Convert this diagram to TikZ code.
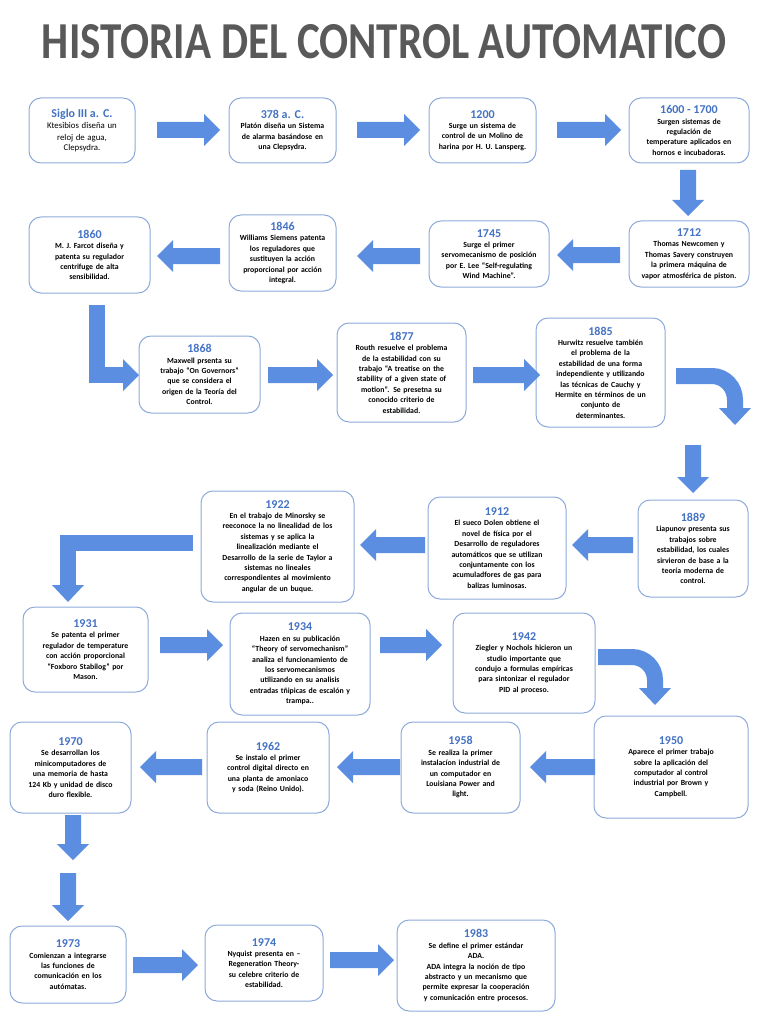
\documentclass[tikz,border=0pt]{standalone}
\usepackage{fontspec}
\setmainfont{Carlito}
\usepackage{graphicx}
\definecolor{arr}{HTML}{5B8EE0}
\definecolor{bord}{HTML}{8EAADB}
\definecolor{yr}{HTML}{4472C4}
\definecolor{ttl}{HTML}{595959}
\newcommand\yr[1]{{\fontsize{12}{14}\selectfont\bfseries\color{yr}#1}\\}
\newcommand\RA[3]{\fill[arr] (#1,{#3-8}) -- ({#2-16},{#3-8}) -- ({#2-16},{#3-16}) -- (#2,#3) -- ({#2-16},{#3+16}) -- ({#2-16},{#3+8}) -- (#1,{#3+8}) -- cycle;}
\newcommand\LA[3]{\fill[arr] (#2,{#3-8}) -- ({#1+16},{#3-8}) -- ({#1+16},{#3-16}) -- (#1,#3) -- ({#1+16},{#3+16}) -- ({#1+16},{#3+8}) -- (#2,{#3+8}) -- cycle;}
\newcommand\DA[3]{\fill[arr] ({#1-8},#2) -- ({#1-8},{#3-16}) -- ({#1-16},{#3-16}) -- (#1,#3) -- ({#1+16},{#3-16}) -- ({#1+8},{#3-16}) -- ({#1+8},#2) -- cycle;}
\newcommand\B[6]{%
 \pgfmathsetmacro\bw{#4-#2}\pgfmathsetmacro\bh{#5-#3}\pgfmathsetmacro\tw{#4-#2-6}%
 \node[box,minimum width=\bw pt,minimum height=\bh pt,text width=\tw pt] (#1) at ({(#2+#4)/2},{(#3+#5)/2}) {#6};}
\begin{document}
\begin{tikzpicture}[x=1pt,y=-1pt,
 box/.style={draw=bord,line width=1pt,rounded corners=12pt,fill=white,align=center,inner sep=1pt,font=\fontsize{7.8}{10.4}\selectfont\bfseries},
 body/.style={line width=16pt,draw=arr}]
\useasboundingbox (0,0) rectangle (768,1024);
\node[font=\bfseries,text=ttl] (title) at (384,42) {\resizebox{684pt}{34pt}{HISTORIA DEL CONTROL AUTOMATICO}};
\B{a}{29}{98}{135}{163}{\yr{Siglo III a. C.}{\fontsize{8.8}{11.5}\selectfont\mdseries Ktesibios diseña un\\reloj de agua,\\Clepsydra.}}
\B{b}{229}{98}{336}{163}{\yr{378 a. C.}Platón diseña un Sistema\\de alarma basándose en\\una Clepsydra.}
\B{c}{429}{98}{536}{163}{\yr{1200}Surge un sistema de\\control de un Molino de\\harina por H. U. Lansperg.}
\B{d}{629}{98}{749}{163}{\yr{1600 - 1700}Surgen sistemas de\\regulación de\\temperature aplicados en\\hornos e incubadoras.}
\B{e}{629}{221}{749}{287}{\yr{1712}Thomas Newcomen y\\Thomas Savery construyen\\la primera máquina de\\vapor atmosférica de piston.}
\B{f}{429}{221}{549}{287}{\yr{1745}Surge el primer\\servomecanismo de posición\\por E. Lee “Self-regulating\\Wind Machine”.}
\B{g}{229}{215}{336}{291}{\yr{1846}Williams Siemens patenta\\los reguladores que\\sustituyen la acción\\proporcional por acción\\integral.}
\B{h}{29}{217}{150}{293}{\yr{1860}M. J. Farcot diseña y\\patenta su regulador\\centrifuge de alta\\sensibilidad.}
\B{i}{139}{336}{260}{413}{\yr{1868}Maxwell prsenta su\\trabajo “On Governors”\\que se considera el\\origen de la Teoría del\\Control.}
\B{j}{337}{323}{466}{422}{\yr{1877}Routh resuelve el problema\\de la estabilidad con su\\trabajo “A treatise on the\\stability of a given state of\\motion”. Se presetna su\\conocido criterio de\\estabilidad.}
\B{k}{536}{318}{665}{427}{\yr{1885}Hurwitz resuelve también\\el problema de la\\estabilidad de una forma\\independiente y utilizando\\las técnicas de Cauchy y\\Hermite en términos de un\\conjunto de\\determinantes.}
\B{l}{638}{500}{748}{597}{\yr{1889}Liapunov presenta sus\\trabajos sobre\\estabilidad, los cuales\\sirvieron de base a la\\teoría moderna de\\control.}
\B{m}{428}{497}{566}{599}{\yr{1912}El sueco Dolen obtiene el\\novel de física por el\\Desarrollo de reguladores\\automáticos que se utilizan\\conjuntamente con los\\acumuladfores de gas para\\balizas luminosas.}
\B{n}{201}{491}{354}{602}{\yr{1922}En el trabajo de Minorsky se\\reeconoce la no linealidad de los\\sistemas y se aplica la\\linealización mediante el\\Desarrollo de la serie de Taylor a\\sistemas no lineales\\correspondientes al movimiento\\angular de un buque.}
\B{o}{23}{607}{148}{692}{\yr{1931}Se patenta el primer\\regulador de temperature\\con acción proporcional\\“Foxboro Stabilog” por\\Mason.}
\B{p}{230}{613}{370}{715}{\yr{1934}Hazen en su publicación\\“Theory of servomechanism”\\analiza el funcionamiento de\\los servomecanismos\\utilizando en su analisis\\entradas tñipicas de escalón y\\trampa..}
\B{q}{453}{613}{595}{713}{\yr{1942}Ziegler y Nochols hicieron un\\studio importante que\\condujo a formulas empíricas\\para sintonizar el regulador\\PID al proceso.}
\B{r}{594}{716}{748}{818}{\yr{1950}Aparece el primer trabajo\\sobre la aplicación del\\computador al control\\industrial por Brown y\\Campbell.}
\B{s}{401}{722}{520}{813}{\yr{1958}Se realiza la primer\\instalacíon industrial de\\un computador en\\Louisiana Power and\\light.}
\B{t}{207}{722}{329}{813}{\yr{1962}Se instalo el primer\\control digital directo en\\una planta de amoniaco\\y soda (Reino Unido).}
\B{u}{10}{722}{131}{813}{\yr{1970}Se desarrollan los\\minicomputadores de\\una memoria de hasta\\124 Kb y unidad de disco\\duro flexible.}
\B{v}{10}{926}{126}{1003}{\yr{1973}Comienzan a integrarse\\las funciones de\\comunicación en los\\autómatas.}
\B{w}{205}{925}{323}{1001}{\yr{1974}Nyquist presenta en –\\Regeneration Theory-\\su celebre criterio de\\estabilidad.}
\B{x}{397}{920}{555}{1011}{\yr{1983}Se define el primer estándar\\ADA.\\ADA integra la noción de tipo\\abstracto y un mecanismo que\\permite expresar la cooperación\\y comunicación entre procesos.}
% straight block arrows
\RA{157}{220}{130}\RA{357}{420}{130}\RA{557}{621}{130}
\DA{688}{170}{216}
\LA{557}{620}{255}\LA{357}{420}{256}\LA{157}{220}{256}
\RA{268}{333}{375}\RA{473}{540}{375}
\DA{693}{445}{493}
\LA{572}{633}{545}\LA{360}{425}{545}
\RA{160}{223}{645}\RA{380}{442}{645}
\LA{530}{595}{767}\LA{337}{400}{767}\LA{140}{202}{767}
\DA{73}{815}{860}\DA{68}{873}{921}
\RA{133}{198}{965}\RA{330}{394}{960}
% elbows and curves
\draw[body] (97,305) -- (97,375) -- (123,375);
\fill[arr] (123,359) -- (139,375) -- (123,391) -- cycle;
\draw[body] (193,543) -- (68,543) -- (68,585);
\fill[arr] (52,585) -- (68,602) -- (84,585) -- cycle;
\draw[body] (676,376) -- (712,376) to[out=0,in=90] (735,400) -- (735,408);
\fill[arr] (719,408) -- (735,425) -- (751,408) -- cycle;
\draw[body] (598,657) -- (632,657) to[out=0,in=90] (655,680) -- (655,688);
\fill[arr] (639,688) -- (655,705) -- (671,688) -- cycle;
\end{tikzpicture}
\end{document}
